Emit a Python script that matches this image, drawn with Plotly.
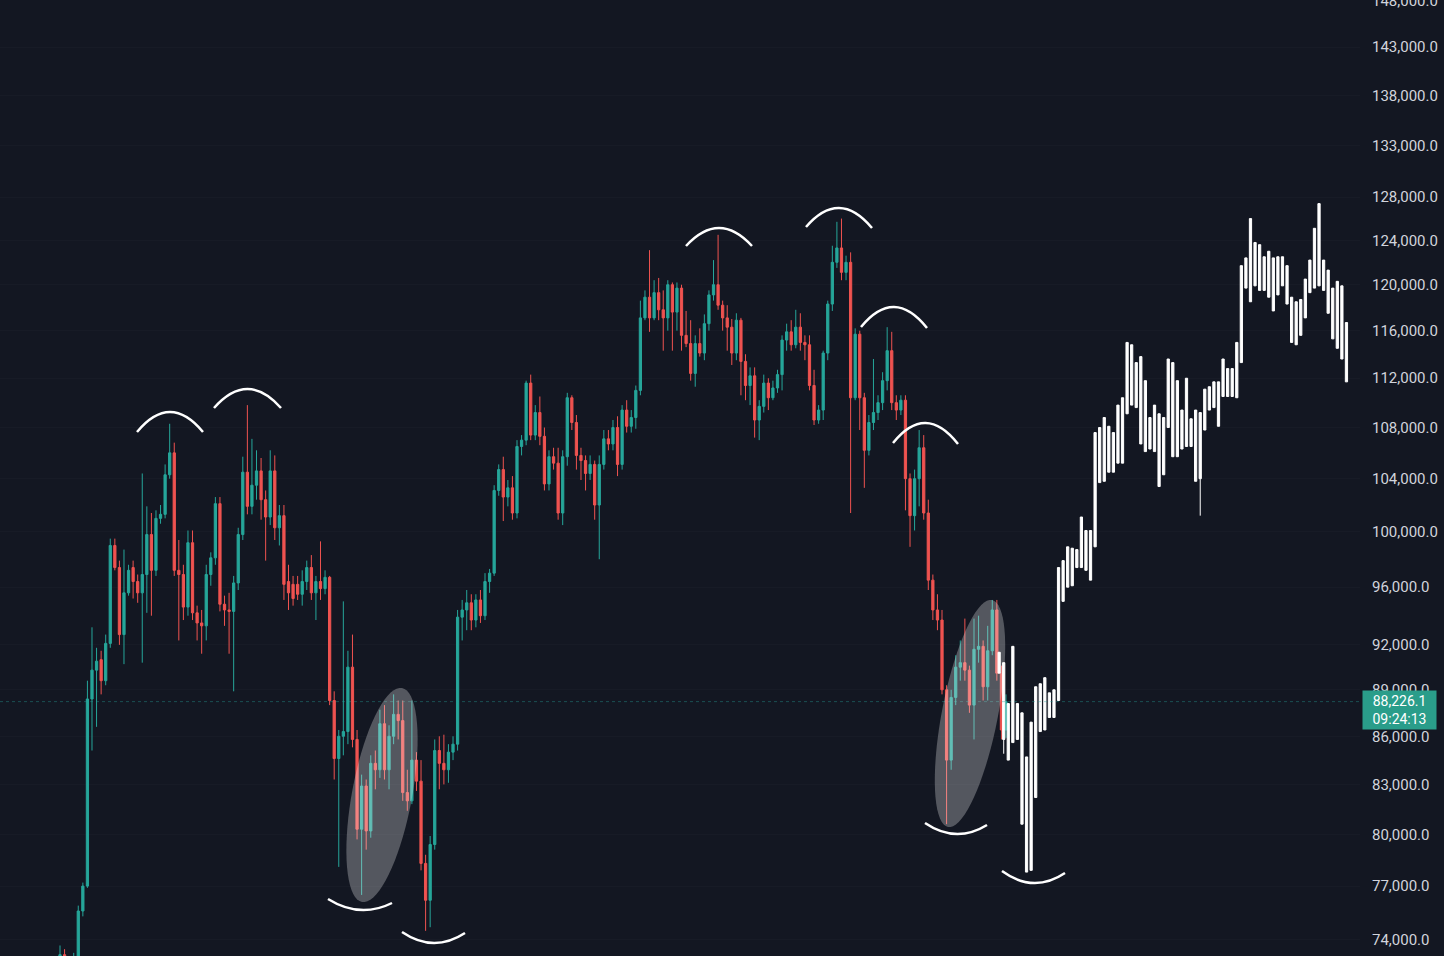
import math

import numpy as np
import plotly.graph_objects as go

# 2D candles (USD)
opens = [
    72600, 73200, 72000, 72600, 73000, 75600, 77000, 88400, 90300, 91000,
    89600, 92100, 99000, 97400, 92700, 95600, 97400, 96400, 95600, 96900,
    99800, 97200, 101000, 101300, 104300, 106000, 97200, 96900, 94600, 99200,
    94200, 93500, 93300, 96900, 98100, 102100, 94800, 94400, 94300, 96300,
    99800, 104500, 101900, 103500, 104600, 102400, 101100, 104600, 100300, 101200,
    96400, 96200, 96200, 95500, 96400, 97400, 95600, 96400, 95900, 96700,
    88300, 84600, 86000, 86300, 90500, 85800, 80300, 82900, 80200, 84300,
    83900, 86800, 83900, 86000, 87400, 87000, 82500, 82000, 84500, 83200,
    78300, 76200, 79400, 85100, 84300, 83900, 85000, 85500, 93900, 94400,
    94900, 93700, 95100, 94000, 96400, 97000, 103100, 104700, 102600, 103300,
    101400, 106500, 107000, 111600, 107400, 109200, 107300, 103600, 105700, 105200,
    101400, 105700, 110400, 108400, 105800, 105400, 104400, 105100, 102000, 105100,
    107100, 106700, 108000, 105100, 109400, 108100, 108800, 111000, 117100, 118900,
    117100, 119300, 117800, 117100, 120000, 117600, 119700, 115600, 114900, 112400,
    114900, 114100, 116600, 119100, 120000, 118200, 117100, 116300, 114100, 116900,
    113400, 111400, 112200, 108600, 109700, 111600, 110400, 111200, 112300, 115200,
    115900, 114800, 116300, 115000, 114800, 111400, 108600, 109400, 114100, 118300,
    122000, 123300, 121100, 122000, 110400, 115700, 110400, 106200, 108400, 109200,
    110000, 111800, 114300, 110000, 109400, 110200, 104000, 101200, 104000, 106400,
    101400, 96500, 94400, 93700, 89000, 84500, 88500, 90500, 90800, 90300,
    88000, 91700, 91900, 89200, 91600, 94400, 90100, 86400,
]
highs = [
    73700, 73500, 72900, 73300, 75900, 77200, 89600, 93200, 91800, 91600,
    92700, 99500, 99500, 97900, 98700, 97600, 97900, 96900, 104400, 101900,
    101400, 101600, 102000, 105100, 108300, 106800, 99400, 97600, 100100, 100100,
    94700, 94400, 97600, 98500, 102600, 102600, 95400, 95600, 96800, 100300,
    105700, 109800, 107100, 106200, 105600, 103100, 106200, 105800, 102000, 102000,
    97600, 96800, 96800, 97200, 97900, 98300, 96800, 99300, 97200, 96800,
    88900, 86400, 95000, 91600, 92700, 86400, 83600, 83300, 84800, 85100,
    87700, 88000, 86700, 88700, 88300, 88300, 83900, 88300, 85000, 84500,
    78800, 79900, 85800, 86000, 86100, 85500, 86000, 94400, 95100, 95800,
    95500, 95500, 95800, 97000, 97300, 103500, 105100, 105700, 103900, 104200,
    107000, 107400, 111800, 112300, 109800, 110500, 108000, 106200, 106400, 106400,
    106200, 110800, 110600, 109000, 106400, 105800, 105800, 105400, 105800, 107800,
    107800, 108600, 108900, 109800, 110200, 109400, 111400, 118600, 119500, 123100,
    120400, 120600, 119500, 120400, 120200, 120200, 120000, 117700, 116900, 115600,
    116200, 117400, 119500, 122200, 124500, 118600, 118200, 117000, 117500, 117100,
    114000, 112900, 112900, 110200, 112300, 112000, 111800, 112700, 115600, 116600,
    116900, 117800, 117500, 115600, 115600, 112700, 109800, 114300, 118600, 123500,
    125700, 126000, 122600, 122900, 116200, 116000, 110800, 109000, 113600, 110600,
    112500, 116300, 115900, 110600, 110600, 110600, 104400, 104700, 107800, 107400,
    102400, 96900, 95500, 94400, 89300, 89000, 91300, 92300, 93800, 90600,
    93800, 94000, 92300, 93300, 95100, 95100, 90600, 88700,
]
lows = [
    72000, 71600, 71400, 72200, 72600, 75300, 76900, 85100, 86600, 88700,
    89300, 91800, 97200, 92000, 90700, 95400, 95200, 94900, 90800, 94200,
    94000, 96800, 100600, 101000, 104000, 96800, 92300, 93700, 94000, 93700,
    92300, 91400, 92300, 96100, 97600, 94300, 93300, 91400, 88900, 95800,
    99400, 101300, 101300, 102400, 100900, 97900, 100500, 99400, 99000, 95100,
    94400, 94700, 95100, 94700, 95800, 95100, 93700, 95100, 95500, 88000,
    83300, 78100, 84800, 85500, 85300, 79700, 76500, 79100, 79800, 82700,
    83400, 83300, 82700, 85500, 85800, 82000, 81400, 81800, 82600, 77900,
    74500, 74700, 79100, 82700, 83000, 83100, 84500, 85100, 92300, 93000,
    93000, 93200, 93500, 93700, 95600, 96800, 102700, 100800, 101900, 100900,
    101000, 105800, 106600, 107000, 107000, 106600, 103100, 103100, 104700, 100900,
    100500, 105000, 107800, 104700, 103900, 103100, 103900, 100900, 98000, 104700,
    106200, 106200, 104200, 104700, 107600, 107600, 107900, 110600, 116900, 115900,
    116900, 116900, 114300, 116000, 114300, 116000, 114300, 114600, 111800, 111300,
    113800, 113500, 116000, 118600, 117800, 116000, 114300, 113100, 113500, 110600,
    110200, 109800, 107200, 107000, 109200, 109400, 110200, 110800, 111000, 114300,
    114300, 114500, 114300, 113500, 111000, 108200, 108300, 108600, 113500, 117700,
    121500, 120400, 120400, 101400, 110200, 107800, 103300, 105800, 107800, 108600,
    109400, 111000, 109400, 108600, 109000, 101600, 98900, 100100, 101900, 100900,
    95800, 93700, 93000, 88700, 80600, 83900, 88000, 89600, 89600, 87500,
    85800, 90800, 88300, 88300, 91300, 89600, 85800, 85900,
]
closes = [
    73200, 72000, 72600, 73000, 75600, 77000, 88400, 90300, 90900, 89600,
    92100, 99000, 97400, 92700, 95600, 97200, 96400, 95600, 96900, 99800,
    97200, 101000, 101300, 104300, 106000, 97200, 96900, 94600, 99200, 94200,
    93500, 93300, 96900, 98100, 102100, 94800, 94400, 94300, 96300, 99800,
    104500, 101900, 103500, 104600, 102400, 101100, 104600, 100300, 101200, 96200,
    95600, 95200, 95500, 96400, 97400, 95600, 96400, 95900, 96700, 88300,
    84600, 86000, 86300, 90500, 85800, 80300, 82900, 80200, 84300, 83900,
    86800, 83900, 86000, 87400, 87000, 82500, 82000, 84500, 83200, 78300,
    76200, 79400, 85100, 84300, 83900, 85000, 85500, 93900, 94400, 94900,
    93700, 95100, 94000, 96400, 97000, 103100, 104700, 102600, 103300, 101400,
    106500, 107000, 111600, 107400, 109200, 107300, 103600, 105700, 105200, 101400,
    105700, 110400, 108400, 105800, 105400, 104400, 105100, 102000, 105100, 107100,
    106700, 108000, 105100, 109400, 108100, 108800, 111000, 117100, 118900, 117100,
    119300, 117800, 117100, 120000, 117600, 119700, 115600, 114900, 112400, 114900,
    114100, 116600, 119100, 120000, 118200, 117100, 116300, 114100, 116900, 113400,
    111400, 112200, 108600, 109700, 111600, 110400, 111200, 112300, 115200, 115900,
    114800, 116300, 115000, 114800, 111400, 108600, 109400, 114100, 118300, 122000,
    123300, 121100, 122000, 110400, 115700, 110400, 106200, 108400, 109200, 110000,
    111800, 114300, 110000, 109400, 110200, 104000, 101200, 104000, 106400, 101400,
    96500, 94400, 93700, 89000, 84500, 88500, 90500, 90800, 90300, 88000,
    91700, 91900, 89200, 91600, 94400, 90100, 86400, 88226.1,
]

# white projected bars (body top / bottom)
white_top = [
    91500, 90800, 88100, 91900, 88100, 87500, 84700, 86900, 89200, 89400,
    89800, 88800, 89000, 97400, 97900, 98900, 98800, 98700, 101100, 100100,
    100100, 107600, 108000, 108800, 108100, 107600, 109800, 110400, 115000, 114800,
    113300, 113800, 111800, 108800, 109800, 109100, 108800, 113600, 113300, 111800,
    109400, 112000, 108700, 109400, 109200, 111100, 111300, 111700, 111700, 113600,
    112800, 112800, 115000, 121700, 122400, 126000, 123800, 123600, 122500, 123000,
    122400, 122500, 122500, 121700, 118900, 118500, 118700, 120500, 122200, 125100,
    127400, 122200, 121300, 119700, 120300, 119900, 116700,
]
white_bottom = [
    90100, 85800, 84500, 85600, 85800, 80600, 77800, 77900, 82200, 86300,
    86400, 87200, 87200, 88300, 95000, 96000, 96100, 97400, 97400, 97200,
    96500, 98900, 103700, 103800, 104500, 104500, 105200, 105200, 109100, 109800,
    109600, 106700, 106100, 106300, 106100, 103400, 104300, 108000, 105700, 105700,
    106300, 106500, 106500, 103800, 104000, 107800, 109400, 109600, 108100, 110500,
    110500, 110500, 110400, 113300, 119700, 118500, 119900, 119500, 119500, 118900,
    117700, 119100, 119900, 118300, 115000, 114800, 115600, 117100, 119300, 119700,
    119900, 119500, 117500, 115300, 114500, 113600, 111700,
]
white_low = list(white_bottom)
white_low[1] = 84900
white_low[44] = 101200

price_ticks = [74000, 77000, 80000, 83000, 86000, 89000, 92000, 96000, 100000, 104000,
               108000, 112000, 116000, 120000, 124000, 128000, 133000, 138000, 143000, 148000]
last_price = 88226.1
countdown = "09:24:13"

BG = "#131722"
UP = "#26a69a"
DOWN = "#ef5350"
W, H = 1444, 956
PLOT_W = 1360
BAR_PX = 4.57      # pixels per bar
FIRST_PX = 60      # pixel of the first bar
x_range = [-FIRST_PX / BAR_PX, (PLOT_W - FIRST_PX) / BAR_PX]
y_range = [math.log10(73130), math.log10(148050)]


def to_paper(px, py):
    return px / PLOT_W, 1 - py / H


def arc_path(x0, y0, x1, y1, apex_y):
    """Quadratic arc through an apex, pixel coords -> paper path."""
    cx = (x0 + x1) / 2
    cy = 2 * apex_y - (y0 + y1) / 2
    a, b, c = to_paper(x0, y0), to_paper(cx, cy), to_paper(x1, y1)
    return f"M {a[0]:.5f},{a[1]:.5f} Q {b[0]:.5f},{b[1]:.5f} {c[0]:.5f},{c[1]:.5f}"


def ellipse_path(top, bottom, half_width, n=72):
    cx, cy = (top[0] + bottom[0]) / 2, (top[1] + bottom[1]) / 2
    dx, dy = top[0] - bottom[0], top[1] - bottom[1]
    length = math.hypot(dx, dy)
    ux, uy = dx / length, dy / length
    vx, vy = -uy, ux
    a = length / 2
    t = np.linspace(0, 2 * np.pi, n, endpoint=False)
    xs = cx + a * np.cos(t) * ux + half_width * np.sin(t) * vx
    ys = cy + a * np.cos(t) * uy + half_width * np.sin(t) * vy
    pts = [to_paper(x, y) for x, y in zip(xs, ys)]
    return "M " + " L ".join(f"{p[0]:.5f},{p[1]:.5f}" for p in pts) + " Z"


fig = go.Figure()

fig.add_trace(
    go.Candlestick(
        x=np.arange(len(opens)),
        open=opens, high=highs, low=lows, close=closes,
        increasing=dict(line=dict(color=UP, width=1), fillcolor=UP),
        decreasing=dict(line=dict(color=DOWN, width=1), fillcolor=DOWN),
        whiskerwidth=0,
        hoverinfo="skip",
    )
)

fig.add_trace(
    go.Candlestick(
        x=np.arange(len(white_top)) + len(opens) - 2.5,
        open=white_bottom, high=white_top, low=white_low, close=white_top,
        increasing=dict(line=dict(color="white", width=1), fillcolor="white"),
        decreasing=dict(line=dict(color="white", width=1), fillcolor="white"),
        whiskerwidth=0,
        xaxis="x2",
        hoverinfo="skip",
    )
)

shapes = [
    dict(type="line", xref="paper", x0=0, x1=1, yref="y", y0=last_price, y1=last_price,
         line=dict(color="rgba(38,166,154,0.4)", width=1, dash="dot"), layer="above"),
]
for top, bottom, hw in [((402, 688), (362, 902), 30), ((992, 600), (948, 827), 28)]:
    shapes.append(dict(type="path", xref="paper", yref="paper", path=ellipse_path(top, bottom, hw),
                       fillcolor="rgba(255,255,255,0.28)", line=dict(width=0), layer="above"))

arcs = [
    (137, 432, 203, 432, 412),
    (214, 408, 281, 408, 389),
    (686, 246, 752, 246, 228),
    (806, 227, 872, 228, 208),
    (861, 327, 927, 328, 307),
    (893, 443, 958, 444, 423),
    (328, 899, 392, 903, 910),
    (402, 932, 465, 933, 943),
    (925, 823, 987, 825, 834),
    (1002, 871, 1065, 873, 883),
]
for x0, y0, x1, y1, apex in arcs:
    shapes.append(dict(type="path", xref="paper", yref="paper", path=arc_path(x0, y0, x1, y1, apex),
                       line=dict(color="white", width=2.5), layer="above"))

fig.update_layout(
    width=W,
    height=H,
    margin=dict(l=0, r=W - PLOT_W, t=0, b=0, pad=0, autoexpand=False),
    paper_bgcolor=BG,
    plot_bgcolor=BG,
    showlegend=False,
    shapes=shapes,
    xaxis=dict(range=x_range, visible=False, rangeslider=dict(visible=False), automargin=False),
    xaxis2=dict(range=x_range, overlaying="x", visible=False, rangeslider=dict(visible=False)),
    yaxis=dict(
        type="log",
        range=y_range,
        side="right",
        automargin=False,
        tickvals=price_ticks,
        tickformat=",.1f",
        ticks="",
        ticklabelstandoff=11,
        ticklabeloverflow="allow",
        tickfont=dict(family="Roboto", size=15, color="#d1d4dc"),
        showgrid=True,
        gridcolor="rgba(255,255,255,0.018)",
        zeroline=False,
        showline=False,
    ),
)

fig.add_annotation(
    x=1 + 2 / PLOT_W, xref="paper", xanchor="left",
    y=math.log10(last_price), yref="y", yanchor="middle", yshift=-8,
    text=f"{last_price:,.1f}<br>{countdown}",
    showarrow=False,
    bgcolor="#2a9d8a",
    width=71, height=36, borderpad=1,
    font=dict(family="Roboto", size=14, color="white"),
    align="center",
)

fig.write_html(
    "out.html",
    config={"displayModeBar": False},
    post_script="document.body.style.margin='0';document.body.style.overflow='hidden';"
                "document.body.style.background='" + BG + "';",
)
